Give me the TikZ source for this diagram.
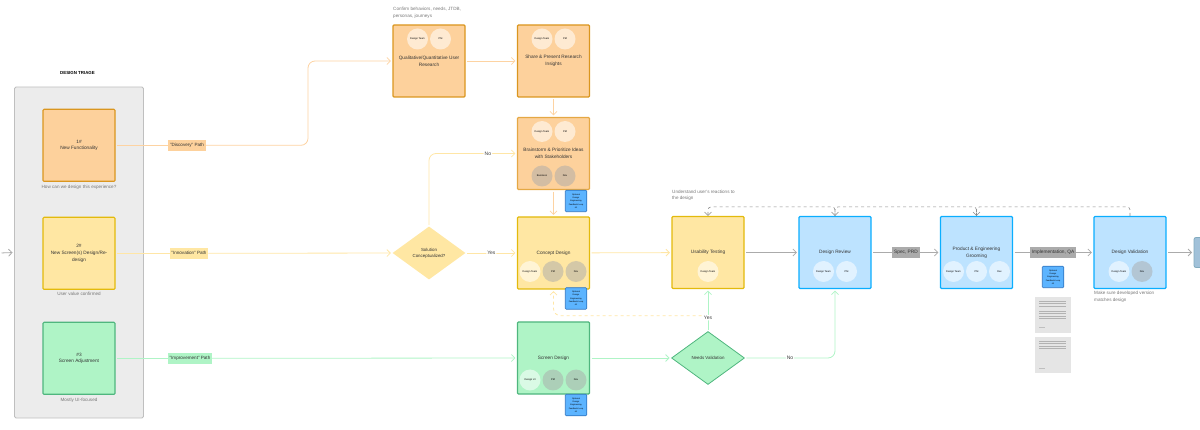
\documentclass[tikz,border=0pt]{standalone}
\usepackage{fontspec}
\setmainfont{Liberation Sans}
\usetikzlibrary{shapes.geometric, arrows.meta, positioning}
\definecolor{orangefill}{HTML}{FDD19C}
\definecolor{orangeline}{HTML}{DA961F}
\definecolor{orangearrow}{HTML}{FDD3A2}
\definecolor{yellowfill}{HTML}{FFE7A3}
\definecolor{yellowline}{HTML}{E3BA0C}
\definecolor{yellowarrow}{HTML}{FFE6A6}
\definecolor{greenfill}{HTML}{AFF4C6}
\definecolor{greenline}{HTML}{4FB67E}
\definecolor{bluefill}{HTML}{BDE3FF}
\definecolor{blueline}{HTML}{0AAEFF}
\definecolor{noteblue}{HTML}{5CB4FF}
\definecolor{notebluel}{HTML}{2F74C0}
\definecolor{greyarrow}{HTML}{ABABAB}
\definecolor{greytext}{HTML}{777777}
\newcommand{\loopnotetext}[1]{Optional\\Design\\Engineering\\Feedback Loop\\#1}
\begin{document}
\begin{tikzpicture}[x=1pt, y=-1pt, >={Straight Barb[length=3.5pt,width=7pt]}]
    \tikzset{
        card/.style={draw, rounded corners=1pt, line width=1.1pt, minimum width=72pt, minimum height=72pt, inner sep=0pt, align=center, text=black!80, font=\fontsize{4.75}{6.7}\selectfont},
        orangecard/.style={card, fill=orangefill, draw=orangeline},
        yellowcard/.style={card, fill=yellowfill, draw=yellowline},
        greencard/.style={card, fill=greenfill, draw=greenline},
        bluecard/.style={card, fill=bluefill, draw=blueline},
        person/.style={circle, fill=white, fill opacity=0.55, text opacity=1, minimum size=21pt, inner sep=0pt, font=\fontsize{2.5}{3}\selectfont},
        dimperson/.style={circle, fill=black!33, fill opacity=0.5, text opacity=1, minimum size=21pt, inner sep=0pt, font=\fontsize{2.5}{3}\selectfont},
        pathtag/.style={inner sep=1.6pt, minimum height=10.5pt, text=black!80, font=\fontsize{4.6}{6}\selectfont},
        greytag/.style={fill=greyarrow, inner sep=2pt, minimum height=11pt, text=black!80, font=\fontsize{4.8}{6}\selectfont},
        remark/.style={text=greytext, align=left, font=\fontsize{4.6}{6.6}\selectfont, inner sep=0pt},
        remarkc/.style={text=greytext, align=center, font=\fontsize{4.6}{6.6}\selectfont, inner sep=0pt},
        loopnote/.style={draw=notebluel, fill=noteblue, rounded corners=1pt, line width=0.6pt, minimum size=21.5pt, inner sep=0pt, align=center, font=\fontsize{2.1}{3.3}\selectfont},
        sticky/.style={fill=black!10, minimum width=36pt, minimum height=36pt, inner sep=0pt},
        decide/.style={diamond, aspect=1.35, minimum width=73pt, minimum height=53pt, inner sep=0pt, align=center, text=black!80, font=\fontsize{4.4}{5.8}\selectfont},
        flow/.style={->, line width=0.8pt, rounded corners=7pt, shorten >=1.5pt, shorten <=1.5pt},
        tagflow/.style={->, line width=0.8pt, rounded corners=7pt, shorten >=1.5pt},
        link/.style={line width=0.8pt, shorten <=1.5pt},
        loopback/.style={->, black!45, dashed, rounded corners=3pt, line width=0.6pt},
        yes/.style={fill=white, inner sep=1pt, text=black!75, font=\fontsize{5}{6}\selectfont}
    }
    \useasboundingbox (0,0) rectangle (1200,430);

    % Triage panel
    \node[font=\bfseries\fontsize{4.4}{5}\selectfont, inner sep=0pt] (triage) at (77.5,72.5) {DESIGN TRIAGE};
    \node[draw=black!25, fill=black!7.5, line width=0.8pt, rounded corners=1.5pt, minimum width=129pt, minimum height=331pt, inner sep=0pt] (panel) at (79,252.5) {};
    \coordinate (entry) at (0,253);
    \draw[flow, greyarrow] (entry) -- (panel.west);

    % Triage cards
    \node[orangecard] (functionality) at (79,145.3) {1\#\\New Functionality};
    \node[yellowcard] (screens) at (79,253.3) {2\#\\New Screen(s) Design/Re-\\design};
    \node[greencard] (adjust) at (79,358.3) {\#3\\Screen Adjustment};
    \node[remarkc, below=3pt of functionality] (exp) {How can we design this experience?};
    \node[remarkc, below=2pt of screens] (confirmed) {User value confirmed};
    \node[remarkc, below=3pt of adjust] (uifocus) {Mostly UI-focused};

    % Path labels
    \node[pathtag, fill=orangefill] (discovery) at (187,145.3) {"Discovery" Path};
    \node[pathtag, fill=yellowfill] (innovation) at (189,253.3) {"Innovation" Path};
    \node[pathtag, fill=greenfill] (improvement) at (190,358.3) {"Improvement" Path};

    % Research row
    \node[orangecard] (research) at (429,61) {Qualitative/Quantitative User\\Research};
    \node[orangecard] (share) at (553.5,61) {Share \& Present Research\\Insights};
    \node[orangecard, draw=orangeline!70!orangefill] (brainstorm) at (553.5,153.5) {Brainstorm \& Prioritize Ideas\\with Stakeholders};
    \node[person] (p1) at (417.5,39) {Design Team};
    \node[person] (p2) at (440.5,39) {PM};
    \node[person] (p3) at (542,39) {Design Team};
    \node[person] (p4) at (565,39) {PM};
    \node[person] (p5) at (542,131.5) {Design Team};
    \node[person] (p6) at (565,131.5) {PM};
    \node[dimperson] (p7) at (542,176) {Business};
    \node[dimperson] (p8) at (565,176) {Dev};
    \node[remark, anchor=north west] (confirm) at (393,7) {Confirm behaviors, needs, JTDB,\\personas, journeys};

    % Concept row
    \node[decide, fill=yellowfill] (solved) at (429,253) {Solution\\Conceptualized?};
    \node[yellowcard] (concept) at (553.5,253) {Concept Design};
    \node[person] (p9) at (530,271.5) {Design Team};
    \node[dimperson] (p10) at (553,271.5) {PM};
    \node[dimperson] (p11) at (576,271.5) {Dev};
    \node[yellowcard] (usability) at (708,252.5) {Usability Testing};
    \node[person] (p12) at (708,271.5) {Design Team};
    \node[remark, anchor=north west] (reactions) at (672,189.5) {Understand user's reactions to\\the design};

    % Blue row
    \node[bluecard] (review) at (835,252.5) {Design Review};
    \node[person] (p13) at (823.5,271.5) {Design Team};
    \node[person] (p14) at (846.5,271.5) {PM};
    \node[bluecard] (grooming) at (976.5,252.5) {Product \& Engineering\\Grooming};
    \node[person] (p15) at (953.5,271.5) {Design Team};
    \node[person] (p16) at (976.5,271.5) {PM};
    \node[person] (p17) at (999.5,271.5) {Dev};
    \node[bluecard] (validation) at (1130,252.5) {Design Validation};
    \node[person] (p18) at (1119,271.5) {Design Team};
    \node[dimperson] (p19) at (1142,271.5) {Dev};
    \node[remark, anchor=north west] (matches) at (1094,291) {Make sure developed version\\matches design};
    \node[draw=blueline!50!black!50!white, fill=bluefill!85!black, rounded corners=2pt, line width=0.8pt, minimum width=30pt, minimum height=30pt] (shipped) at (1209,252.5) {};

    % Green row
    \node[greencard] (screen) at (553.5,358) {Screen Design};
    \node[person] (p20) at (530,380) {Design UI};
    \node[dimperson] (p21) at (553,380) {PM};
    \node[dimperson] (p22) at (576,380) {Dev};
    \node[decide, fill=greenfill, draw=greenline, line width=0.8pt] (validate) at (708,358) {Needs Validation};

    % Optional feedback notes
    \node[loopnote] (loopa) at (576,201) {\loopnotetext{\#1}};
    \node[loopnote] (loopb) at (576,298.5) {\loopnotetext{\#1}};
    \node[loopnote] (loopc) at (576,405) {\loopnotetext{\#1}};
    \node[loopnote] (loopd) at (1053,277) {\loopnotetext{\#2}};

    % Tags between the blue cards
    \node[greytag] (spec) at (906,252.5) {Spec, PRD};
    \node[greytag] (impl) at (1053,252.5) {Implementation, QA};

    % Sticky notes, their small print is only suggested
    \node[sticky] (stickya) at (1053,315) {};
    \node[sticky] (stickyb) at (1053,355) {};
    \foreach \y in {301,303.5,306,311,313.5,316,318.5}
        \fill[black!30] (1039,\y) rectangle (1066,\y+0.6);
    \foreach \y in {341,343.5,346,348.5}
        \fill[black!30] (1039,\y) rectangle (1066,\y+0.6);
    \fill[black!25] (1039,327.5) rectangle (1045,328.1);
    \fill[black!25] (1039,368.5) rectangle (1045,369.1);

    % Connectors
    \draw[link, orangearrow] (functionality) -- (discovery);
    \draw[tagflow, orangearrow] (discovery) -| (308,61) -- (research);
    \draw[flow, orangearrow] (research) -- (share);
    \draw[flow, orangearrow] (share) -- (brainstorm);
    \draw[flow, orangearrow] (brainstorm) -- (concept);
    \draw[link, yellowarrow] (screens) -- (innovation);
    \draw[tagflow, yellowarrow] (innovation) -- (solved);
    \draw[flow, yellowarrow] (solved) -- node[yes] (yesa) {Yes} (concept);
    \draw[flow, yellowarrow] (solved) |- node[yes, pos=0.835] (noa) {No} (brainstorm);
    \draw[flow, yellowarrow] (concept) -- (usability);
    \draw[link, greenfill] (adjust) -- (improvement);
    \draw[tagflow, greenfill] (improvement) -- (screen);
    \draw[flow, greenfill] (screen) -- (validate);
    \draw[flow, greenfill] (validate) -- node[yes, pos=0.32] (yesb) {Yes} (usability);
    \draw[flow, greenfill] (validate) -| node[yes, pos=0.25] (nob) {No} (review);
    \coordinate (retry) at (703,315.7);
    \draw[flow, yellowarrow, dashed] (retry) -| (concept);
    \draw[flow, greyarrow] (usability) -- (review);
    \draw[link, greyarrow] (review) -- (spec);
    \draw[tagflow, greyarrow] (spec) -- (grooming);
    \draw[link, greyarrow] (grooming) -- (impl);
    \draw[tagflow, greyarrow] (impl) -- (validation);
    \draw[flow, greyarrow] (validation) -- (shipped);
    \draw[loopback] (review.north) -- ++(0,-9) -| (usability.north);
    \draw[loopback] (grooming.north) -- ++(0,-9) -| (review.north);
    \draw[loopback] (validation.north) -- ++(0,-9) -| (grooming.north);
\end{tikzpicture}
\end{document}
